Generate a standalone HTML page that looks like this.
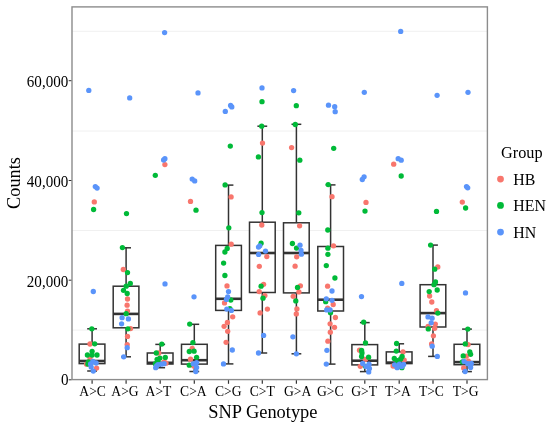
<!DOCTYPE html>
<html lang="en"><head><meta charset="utf-8"><title>SNP Genotype Counts</title>
<style>html,body{margin:0;padding:0;background:#fff}body{width:550px;height:428px;overflow:hidden}svg{display:block}text{font-family:"Liberation Serif","Times New Roman",serif;fill:#000}</style>
</head><body>
<svg width="550" height="428" viewBox="0 0 550 428">
<rect x="0" y="0" width="550" height="428" fill="#ffffff"/>
<g stroke="#f0f0f0" stroke-width="1" fill="none">
<line x1="72.0" x2="487.4" y1="31.3" y2="31.3"/>
<line x1="72.0" x2="487.4" y1="131.0" y2="131.0"/>
<line x1="72.0" x2="487.4" y1="230.5" y2="230.5"/>
<line x1="72.0" x2="487.4" y1="330.1" y2="330.1"/>
</g>
<g stroke="#333333" stroke-width="1.5" fill="none" stroke-linecap="butt">
<line x1="92.1" x2="92.1" y1="328.8" y2="344.1"/>
<line x1="92.1" x2="92.1" y1="363.6" y2="371.0"/>
<line x1="87.2" x2="97.0" y1="328.8" y2="328.8"/>
<line x1="87.2" x2="97.0" y1="371.0" y2="371.0"/>
<rect x="79.2" y="344.1" width="25.7" height="19.5" fill="#ffffff"/>
<line x1="79.2" x2="104.9" y1="361.0" y2="361.0" stroke-width="2.6"/>
<line x1="126.1" x2="126.1" y1="247.8" y2="286.2"/>
<line x1="126.1" x2="126.1" y1="327.8" y2="356.8"/>
<line x1="121.2" x2="131.0" y1="247.8" y2="247.8"/>
<line x1="121.2" x2="131.0" y1="356.8" y2="356.8"/>
<rect x="113.2" y="286.2" width="25.7" height="41.6" fill="#ffffff"/>
<line x1="113.2" x2="138.9" y1="313.9" y2="313.9" stroke-width="2.6"/>
<line x1="160.2" x2="160.2" y1="344.4" y2="353.0"/>
<line x1="160.2" x2="160.2" y1="364.0" y2="367.7"/>
<line x1="155.3" x2="165.1" y1="344.4" y2="344.4"/>
<line x1="155.3" x2="165.1" y1="367.7" y2="367.7"/>
<rect x="147.3" y="353.0" width="25.7" height="11.0" fill="#ffffff"/>
<line x1="147.3" x2="173.0" y1="362.8" y2="362.8" stroke-width="2.6"/>
<line x1="194.3" x2="194.3" y1="324.3" y2="344.3"/>
<line x1="194.3" x2="194.3" y1="364.1" y2="371.5"/>
<line x1="189.4" x2="199.2" y1="324.3" y2="324.3"/>
<line x1="189.4" x2="199.2" y1="371.5" y2="371.5"/>
<rect x="181.5" y="344.3" width="25.7" height="19.8" fill="#ffffff"/>
<line x1="181.5" x2="207.2" y1="360.2" y2="360.2" stroke-width="2.6"/>
<line x1="228.5" x2="228.5" y1="185.1" y2="245.4"/>
<line x1="228.5" x2="228.5" y1="310.4" y2="363.9"/>
<line x1="223.6" x2="233.4" y1="185.1" y2="185.1"/>
<line x1="223.6" x2="233.4" y1="363.9" y2="363.9"/>
<rect x="215.7" y="245.4" width="25.7" height="65.0" fill="#ffffff"/>
<line x1="215.7" x2="241.3" y1="298.8" y2="298.8" stroke-width="2.6"/>
<line x1="262.3" x2="262.3" y1="126.2" y2="222.2"/>
<line x1="262.3" x2="262.3" y1="292.5" y2="353.0"/>
<line x1="257.4" x2="267.2" y1="126.2" y2="126.2"/>
<line x1="257.4" x2="267.2" y1="353.0" y2="353.0"/>
<rect x="249.5" y="222.2" width="25.7" height="70.3" fill="#ffffff"/>
<line x1="249.5" x2="275.2" y1="253.0" y2="253.0" stroke-width="2.6"/>
<line x1="296.4" x2="296.4" y1="124.3" y2="222.8"/>
<line x1="296.4" x2="296.4" y1="292.9" y2="353.8"/>
<line x1="291.5" x2="301.3" y1="124.3" y2="124.3"/>
<line x1="291.5" x2="301.3" y1="353.8" y2="353.8"/>
<rect x="283.5" y="222.8" width="25.7" height="70.1" fill="#ffffff"/>
<line x1="283.5" x2="309.2" y1="253.0" y2="253.0" stroke-width="2.6"/>
<line x1="330.6" x2="330.6" y1="184.9" y2="246.5"/>
<line x1="330.6" x2="330.6" y1="311.0" y2="364.1"/>
<line x1="325.7" x2="335.5" y1="184.9" y2="184.9"/>
<line x1="325.7" x2="335.5" y1="364.1" y2="364.1"/>
<rect x="317.8" y="246.5" width="25.7" height="64.5" fill="#ffffff"/>
<line x1="317.8" x2="343.5" y1="299.7" y2="299.7" stroke-width="2.6"/>
<line x1="364.8" x2="364.8" y1="322.6" y2="344.6"/>
<line x1="364.8" x2="364.8" y1="364.9" y2="371.6"/>
<line x1="359.9" x2="369.7" y1="322.6" y2="322.6"/>
<line x1="359.9" x2="369.7" y1="371.6" y2="371.6"/>
<rect x="351.9" y="344.6" width="25.7" height="20.3" fill="#ffffff"/>
<line x1="351.9" x2="377.7" y1="360.7" y2="360.7" stroke-width="2.6"/>
<line x1="399.2" x2="399.2" y1="343.8" y2="351.9"/>
<line x1="399.2" x2="399.2" y1="363.6" y2="367.7"/>
<line x1="394.3" x2="404.1" y1="343.8" y2="343.8"/>
<line x1="394.3" x2="404.1" y1="367.7" y2="367.7"/>
<rect x="386.3" y="351.9" width="25.7" height="11.7" fill="#ffffff"/>
<line x1="386.3" x2="412.1" y1="362.6" y2="362.6" stroke-width="2.6"/>
<line x1="433.0" x2="433.0" y1="245.1" y2="284.7"/>
<line x1="433.0" x2="433.0" y1="327.0" y2="356.4"/>
<line x1="428.1" x2="437.9" y1="245.1" y2="245.1"/>
<line x1="428.1" x2="437.9" y1="356.4" y2="356.4"/>
<rect x="420.1" y="284.7" width="25.7" height="42.3" fill="#ffffff"/>
<line x1="420.1" x2="445.9" y1="313.1" y2="313.1" stroke-width="2.6"/>
<line x1="467.0" x2="467.0" y1="329.1" y2="344.3"/>
<line x1="467.0" x2="467.0" y1="364.7" y2="371.6"/>
<line x1="462.1" x2="471.9" y1="329.1" y2="329.1"/>
<line x1="462.1" x2="471.9" y1="371.6" y2="371.6"/>
<rect x="454.1" y="344.3" width="25.7" height="20.4" fill="#ffffff"/>
<line x1="454.1" x2="479.9" y1="362.1" y2="362.1" stroke-width="2.6"/>
</g>
<g fill="#F8766D" stroke="none">
<circle cx="94.3" cy="201.9" r="2.65"/>
<circle cx="90.0" cy="344.0" r="2.65"/>
<circle cx="90.0" cy="358.0" r="2.65"/>
<circle cx="86.6" cy="364.2" r="2.65"/>
<circle cx="96.6" cy="368.1" r="2.65"/>
<circle cx="123.3" cy="269.5" r="2.65"/>
<circle cx="127.5" cy="299.0" r="2.65"/>
<circle cx="127.1" cy="305.2" r="2.65"/>
<circle cx="127.5" cy="311.1" r="2.65"/>
<circle cx="130.6" cy="328.6" r="2.65"/>
<circle cx="127.5" cy="336.4" r="2.65"/>
<circle cx="127.2" cy="344.6" r="2.65"/>
<circle cx="164.9" cy="164.6" r="2.65"/>
<circle cx="158.8" cy="353.0" r="2.65"/>
<circle cx="164.1" cy="361.8" r="2.65"/>
<circle cx="166.0" cy="363.2" r="2.65"/>
<circle cx="190.5" cy="201.4" r="2.65"/>
<circle cx="192.2" cy="348.5" r="2.65"/>
<circle cx="190.5" cy="359.2" r="2.65"/>
<circle cx="193.7" cy="366.0" r="2.65"/>
<circle cx="231.1" cy="196.9" r="2.65"/>
<circle cx="231.2" cy="244.2" r="2.65"/>
<circle cx="227.0" cy="285.9" r="2.65"/>
<circle cx="224.5" cy="302.9" r="2.65"/>
<circle cx="232.7" cy="316.8" r="2.65"/>
<circle cx="227.4" cy="322.5" r="2.65"/>
<circle cx="224.1" cy="326.3" r="2.65"/>
<circle cx="227.7" cy="331.3" r="2.65"/>
<circle cx="226.1" cy="342.3" r="2.65"/>
<circle cx="262.5" cy="143.1" r="2.65"/>
<circle cx="261.8" cy="225.0" r="2.65"/>
<circle cx="266.8" cy="256.6" r="2.65"/>
<circle cx="259.3" cy="266.3" r="2.65"/>
<circle cx="263.6" cy="284.3" r="2.65"/>
<circle cx="259.2" cy="291.6" r="2.65"/>
<circle cx="264.9" cy="295.6" r="2.65"/>
<circle cx="267.4" cy="309.1" r="2.65"/>
<circle cx="260.1" cy="312.9" r="2.65"/>
<circle cx="291.6" cy="147.6" r="2.65"/>
<circle cx="299.6" cy="225.8" r="2.65"/>
<circle cx="296.7" cy="256.8" r="2.65"/>
<circle cx="295.1" cy="266.2" r="2.65"/>
<circle cx="300.4" cy="285.8" r="2.65"/>
<circle cx="298.9" cy="291.9" r="2.65"/>
<circle cx="293.2" cy="296.3" r="2.65"/>
<circle cx="296.9" cy="308.9" r="2.65"/>
<circle cx="296.3" cy="313.9" r="2.65"/>
<circle cx="332.0" cy="196.7" r="2.65"/>
<circle cx="333.5" cy="245.8" r="2.65"/>
<circle cx="327.6" cy="286.2" r="2.65"/>
<circle cx="333.2" cy="304.5" r="2.65"/>
<circle cx="327.6" cy="308.2" r="2.65"/>
<circle cx="335.4" cy="317.5" r="2.65"/>
<circle cx="330.1" cy="323.8" r="2.65"/>
<circle cx="334.5" cy="327.3" r="2.65"/>
<circle cx="330.3" cy="332.2" r="2.65"/>
<circle cx="327.9" cy="341.2" r="2.65"/>
<circle cx="366.0" cy="202.4" r="2.65"/>
<circle cx="359.5" cy="350.2" r="2.65"/>
<circle cx="365.5" cy="359.3" r="2.65"/>
<circle cx="360.3" cy="366.3" r="2.65"/>
<circle cx="393.7" cy="164.2" r="2.65"/>
<circle cx="403.0" cy="351.9" r="2.65"/>
<circle cx="404.2" cy="360.1" r="2.65"/>
<circle cx="393.1" cy="366.0" r="2.65"/>
<circle cx="437.8" cy="266.9" r="2.65"/>
<circle cx="429.6" cy="296.0" r="2.65"/>
<circle cx="431.8" cy="302.0" r="2.65"/>
<circle cx="436.5" cy="310.6" r="2.65"/>
<circle cx="435.3" cy="324.1" r="2.65"/>
<circle cx="428.1" cy="326.4" r="2.65"/>
<circle cx="434.7" cy="328.3" r="2.65"/>
<circle cx="433.4" cy="335.8" r="2.65"/>
<circle cx="431.6" cy="343.9" r="2.65"/>
<circle cx="462.3" cy="202.1" r="2.65"/>
<circle cx="468.1" cy="344.6" r="2.65"/>
<circle cx="466.3" cy="356.2" r="2.65"/>
<circle cx="468.4" cy="361.2" r="2.65"/>
<circle cx="463.7" cy="367.9" r="2.65"/>
</g>
<g fill="#00BA38" stroke="none">
<circle cx="93.6" cy="209.5" r="2.65"/>
<circle cx="91.8" cy="328.8" r="2.65"/>
<circle cx="94.7" cy="343.8" r="2.65"/>
<circle cx="92.1" cy="351.3" r="2.65"/>
<circle cx="87.4" cy="355.0" r="2.65"/>
<circle cx="92.1" cy="355.1" r="2.65"/>
<circle cx="97.0" cy="355.0" r="2.65"/>
<circle cx="88.5" cy="362.0" r="2.65"/>
<circle cx="87.9" cy="364.0" r="2.65"/>
<circle cx="126.5" cy="213.6" r="2.65"/>
<circle cx="122.4" cy="247.6" r="2.65"/>
<circle cx="127.5" cy="272.6" r="2.65"/>
<circle cx="130.3" cy="283.4" r="2.65"/>
<circle cx="126.2" cy="286.2" r="2.65"/>
<circle cx="123.5" cy="290.3" r="2.65"/>
<circle cx="127.2" cy="293.5" r="2.65"/>
<circle cx="126.2" cy="313.7" r="2.65"/>
<circle cx="127.9" cy="328.8" r="2.65"/>
<circle cx="155.3" cy="175.3" r="2.65"/>
<circle cx="161.8" cy="344.1" r="2.65"/>
<circle cx="156.3" cy="353.0" r="2.65"/>
<circle cx="165.3" cy="357.4" r="2.65"/>
<circle cx="159.9" cy="358.1" r="2.65"/>
<circle cx="157.1" cy="359.3" r="2.65"/>
<circle cx="158.0" cy="360.9" r="2.65"/>
<circle cx="155.4" cy="363.7" r="2.65"/>
<circle cx="196.0" cy="210.2" r="2.65"/>
<circle cx="189.7" cy="324.1" r="2.65"/>
<circle cx="192.9" cy="342.6" r="2.65"/>
<circle cx="189.3" cy="351.5" r="2.65"/>
<circle cx="194.1" cy="351.2" r="2.65"/>
<circle cx="196.6" cy="357.3" r="2.65"/>
<circle cx="189.3" cy="365.2" r="2.65"/>
<circle cx="230.3" cy="146.1" r="2.65"/>
<circle cx="225.1" cy="184.9" r="2.65"/>
<circle cx="228.8" cy="227.8" r="2.65"/>
<circle cx="227.2" cy="248.4" r="2.65"/>
<circle cx="224.9" cy="252.0" r="2.65"/>
<circle cx="223.6" cy="263.1" r="2.65"/>
<circle cx="224.9" cy="275.5" r="2.65"/>
<circle cx="230.8" cy="300.0" r="2.65"/>
<circle cx="229.9" cy="308.6" r="2.65"/>
<circle cx="262.0" cy="101.7" r="2.65"/>
<circle cx="261.7" cy="126.2" r="2.65"/>
<circle cx="258.4" cy="156.9" r="2.65"/>
<circle cx="262.0" cy="212.6" r="2.65"/>
<circle cx="261.1" cy="243.2" r="2.65"/>
<circle cx="261.1" cy="286.2" r="2.65"/>
<circle cx="263.0" cy="298.2" r="2.65"/>
<circle cx="296.3" cy="105.7" r="2.65"/>
<circle cx="295.3" cy="124.5" r="2.65"/>
<circle cx="299.8" cy="160.2" r="2.65"/>
<circle cx="298.8" cy="212.8" r="2.65"/>
<circle cx="292.4" cy="243.5" r="2.65"/>
<circle cx="296.5" cy="248.1" r="2.65"/>
<circle cx="297.5" cy="287.4" r="2.65"/>
<circle cx="295.8" cy="300.9" r="2.65"/>
<circle cx="333.7" cy="148.3" r="2.65"/>
<circle cx="328.2" cy="184.6" r="2.65"/>
<circle cx="327.8" cy="230.0" r="2.65"/>
<circle cx="327.9" cy="248.2" r="2.65"/>
<circle cx="327.9" cy="254.3" r="2.65"/>
<circle cx="326.3" cy="265.6" r="2.65"/>
<circle cx="334.9" cy="278.0" r="2.65"/>
<circle cx="325.7" cy="301.7" r="2.65"/>
<circle cx="330.5" cy="312.7" r="2.65"/>
<circle cx="365.0" cy="211.1" r="2.65"/>
<circle cx="363.7" cy="322.2" r="2.65"/>
<circle cx="365.5" cy="342.9" r="2.65"/>
<circle cx="361.6" cy="350.5" r="2.65"/>
<circle cx="362.0" cy="353.0" r="2.65"/>
<circle cx="361.6" cy="356.5" r="2.65"/>
<circle cx="368.6" cy="357.2" r="2.65"/>
<circle cx="365.5" cy="366.3" r="2.65"/>
<circle cx="401.2" cy="176.0" r="2.65"/>
<circle cx="396.6" cy="343.5" r="2.65"/>
<circle cx="396.3" cy="351.1" r="2.65"/>
<circle cx="402.1" cy="356.4" r="2.65"/>
<circle cx="394.3" cy="358.4" r="2.65"/>
<circle cx="400.7" cy="359.0" r="2.65"/>
<circle cx="397.2" cy="360.7" r="2.65"/>
<circle cx="401.9" cy="367.7" r="2.65"/>
<circle cx="436.5" cy="211.4" r="2.65"/>
<circle cx="430.6" cy="245.1" r="2.65"/>
<circle cx="434.7" cy="269.2" r="2.65"/>
<circle cx="435.5" cy="282.0" r="2.65"/>
<circle cx="434.0" cy="284.7" r="2.65"/>
<circle cx="437.2" cy="290.0" r="2.65"/>
<circle cx="429.2" cy="291.6" r="2.65"/>
<circle cx="437.8" cy="313.1" r="2.65"/>
<circle cx="428.3" cy="328.9" r="2.65"/>
<circle cx="465.6" cy="208.0" r="2.65"/>
<circle cx="467.8" cy="329.1" r="2.65"/>
<circle cx="465.3" cy="343.9" r="2.65"/>
<circle cx="469.8" cy="351.9" r="2.65"/>
<circle cx="470.6" cy="354.3" r="2.65"/>
<circle cx="463.2" cy="355.9" r="2.65"/>
<circle cx="462.4" cy="361.8" r="2.65"/>
</g>
<g fill="#5A94FA" stroke="none">
<circle cx="88.8" cy="90.4" r="2.65"/>
<circle cx="95.3" cy="186.6" r="2.65"/>
<circle cx="97.1" cy="188.1" r="2.65"/>
<circle cx="93.3" cy="291.5" r="2.65"/>
<circle cx="92.9" cy="361.5" r="2.65"/>
<circle cx="96.1" cy="363.0" r="2.65"/>
<circle cx="90.6" cy="363.9" r="2.65"/>
<circle cx="91.2" cy="367.1" r="2.65"/>
<circle cx="93.3" cy="371.1" r="2.65"/>
<circle cx="129.7" cy="97.9" r="2.65"/>
<circle cx="122.1" cy="317.7" r="2.65"/>
<circle cx="128.4" cy="318.9" r="2.65"/>
<circle cx="121.6" cy="323.8" r="2.65"/>
<circle cx="127.2" cy="347.7" r="2.65"/>
<circle cx="123.7" cy="356.8" r="2.65"/>
<circle cx="164.6" cy="32.6" r="2.65"/>
<circle cx="164.9" cy="158.7" r="2.65"/>
<circle cx="163.6" cy="160.0" r="2.65"/>
<circle cx="165.0" cy="283.9" r="2.65"/>
<circle cx="164.1" cy="363.7" r="2.65"/>
<circle cx="161.3" cy="364.2" r="2.65"/>
<circle cx="158.0" cy="364.6" r="2.65"/>
<circle cx="156.6" cy="366.0" r="2.65"/>
<circle cx="155.7" cy="367.7" r="2.65"/>
<circle cx="198.0" cy="92.9" r="2.65"/>
<circle cx="192.2" cy="179.1" r="2.65"/>
<circle cx="194.7" cy="180.9" r="2.65"/>
<circle cx="194.0" cy="296.8" r="2.65"/>
<circle cx="193.2" cy="363.8" r="2.65"/>
<circle cx="196.6" cy="362.6" r="2.65"/>
<circle cx="196.6" cy="367.4" r="2.65"/>
<circle cx="195.8" cy="371.5" r="2.65"/>
<circle cx="230.6" cy="105.4" r="2.65"/>
<circle cx="231.8" cy="106.9" r="2.65"/>
<circle cx="225.3" cy="111.4" r="2.65"/>
<circle cx="228.5" cy="291.6" r="2.65"/>
<circle cx="227.7" cy="296.9" r="2.65"/>
<circle cx="226.4" cy="299.4" r="2.65"/>
<circle cx="226.8" cy="309.1" r="2.65"/>
<circle cx="231.4" cy="310.4" r="2.65"/>
<circle cx="232.3" cy="350.0" r="2.65"/>
<circle cx="223.5" cy="363.9" r="2.65"/>
<circle cx="262.0" cy="87.9" r="2.65"/>
<circle cx="259.8" cy="245.8" r="2.65"/>
<circle cx="258.5" cy="247.1" r="2.65"/>
<circle cx="265.5" cy="251.1" r="2.65"/>
<circle cx="258.6" cy="254.4" r="2.65"/>
<circle cx="263.6" cy="335.4" r="2.65"/>
<circle cx="258.5" cy="353.0" r="2.65"/>
<circle cx="293.6" cy="90.6" r="2.65"/>
<circle cx="300.0" cy="245.2" r="2.65"/>
<circle cx="301.0" cy="250.4" r="2.65"/>
<circle cx="301.4" cy="254.2" r="2.65"/>
<circle cx="292.9" cy="336.8" r="2.65"/>
<circle cx="296.4" cy="353.8" r="2.65"/>
<circle cx="328.5" cy="105.2" r="2.65"/>
<circle cx="334.7" cy="106.7" r="2.65"/>
<circle cx="335.2" cy="111.7" r="2.65"/>
<circle cx="332.0" cy="291.0" r="2.65"/>
<circle cx="326.3" cy="298.8" r="2.65"/>
<circle cx="332.0" cy="300.3" r="2.65"/>
<circle cx="326.7" cy="309.9" r="2.65"/>
<circle cx="330.1" cy="309.9" r="2.65"/>
<circle cx="326.9" cy="350.3" r="2.65"/>
<circle cx="326.3" cy="364.1" r="2.65"/>
<circle cx="364.3" cy="92.3" r="2.65"/>
<circle cx="364.1" cy="176.8" r="2.65"/>
<circle cx="362.3" cy="179.5" r="2.65"/>
<circle cx="361.5" cy="296.6" r="2.65"/>
<circle cx="362.7" cy="363.5" r="2.65"/>
<circle cx="369.0" cy="364.2" r="2.65"/>
<circle cx="366.0" cy="366.6" r="2.65"/>
<circle cx="369.4" cy="368.4" r="2.65"/>
<circle cx="368.7" cy="371.9" r="2.65"/>
<circle cx="400.7" cy="31.4" r="2.65"/>
<circle cx="398.2" cy="158.7" r="2.65"/>
<circle cx="401.2" cy="160.2" r="2.65"/>
<circle cx="401.8" cy="283.4" r="2.65"/>
<circle cx="394.6" cy="364.8" r="2.65"/>
<circle cx="399.5" cy="364.2" r="2.65"/>
<circle cx="403.6" cy="364.4" r="2.65"/>
<circle cx="397.2" cy="367.7" r="2.65"/>
<circle cx="401.8" cy="366.6" r="2.65"/>
<circle cx="437.1" cy="95.3" r="2.65"/>
<circle cx="428.0" cy="316.9" r="2.65"/>
<circle cx="432.1" cy="318.2" r="2.65"/>
<circle cx="431.2" cy="322.8" r="2.65"/>
<circle cx="432.2" cy="346.2" r="2.65"/>
<circle cx="437.3" cy="356.4" r="2.65"/>
<circle cx="468.0" cy="92.3" r="2.65"/>
<circle cx="466.5" cy="186.6" r="2.65"/>
<circle cx="467.7" cy="187.8" r="2.65"/>
<circle cx="465.5" cy="292.9" r="2.65"/>
<circle cx="464.1" cy="361.5" r="2.65"/>
<circle cx="467.8" cy="363.7" r="2.65"/>
<circle cx="471.3" cy="363.5" r="2.65"/>
<circle cx="470.6" cy="367.5" r="2.65"/>
<circle cx="465.1" cy="371.5" r="2.65"/>
</g>
<rect x="72.0" y="6.9" width="415.4" height="372.7" fill="none" stroke="#8c8c8c" stroke-width="1.4"/>
<g stroke="#333333" stroke-width="1.2">
<line x1="92.1" x2="92.1" y1="380.20000000000005" y2="383.8"/>
<line x1="126.1" x2="126.1" y1="380.20000000000005" y2="383.8"/>
<line x1="160.2" x2="160.2" y1="380.20000000000005" y2="383.8"/>
<line x1="194.3" x2="194.3" y1="380.20000000000005" y2="383.8"/>
<line x1="228.5" x2="228.5" y1="380.20000000000005" y2="383.8"/>
<line x1="262.3" x2="262.3" y1="380.20000000000005" y2="383.8"/>
<line x1="296.4" x2="296.4" y1="380.20000000000005" y2="383.8"/>
<line x1="330.6" x2="330.6" y1="380.20000000000005" y2="383.8"/>
<line x1="364.8" x2="364.8" y1="380.20000000000005" y2="383.8"/>
<line x1="399.2" x2="399.2" y1="380.20000000000005" y2="383.8"/>
<line x1="433.0" x2="433.0" y1="380.20000000000005" y2="383.8"/>
<line x1="467.0" x2="467.0" y1="380.20000000000005" y2="383.8"/>
<line x1="68.7" x2="71.4" y1="80.7" y2="80.7" stroke-width="1.0"/>
<line x1="68.7" x2="71.4" y1="180.5" y2="180.5" stroke-width="1.0"/>
<line x1="68.7" x2="71.4" y1="280.2" y2="280.2" stroke-width="1.0"/>
<line x1="68.7" x2="71.4" y1="379.8" y2="379.8" stroke-width="1.0"/>
</g>
<g font-size="13.6" text-anchor="middle">
<text x="92.65" y="396.2">A&gt;C</text>
<text x="125.00" y="396.2">A&gt;G</text>
<text x="158.50" y="396.2">A&gt;T</text>
<text x="193.40" y="396.2">C&gt;A</text>
<text x="228.30" y="396.2">C&gt;G</text>
<text x="262.30" y="396.2">C&gt;T</text>
<text x="297.70" y="396.2">G&gt;A</text>
<text x="330.20" y="396.2">G&gt;C</text>
<text x="364.20" y="396.2">G&gt;T</text>
<text x="398.00" y="396.2">T&gt;A</text>
<text x="431.40" y="396.2">T&gt;C</text>
<text x="465.70" y="396.2">T&gt;G</text>
</g>
<g font-size="15.1" text-anchor="end">
<text transform="translate(68.3,87.0) scale(1,1.08)">60,000</text>
<text transform="translate(68.3,186.8) scale(1,1.08)">40,000</text>
<text transform="translate(68.3,286.5) scale(1,1.08)">20,000</text>
<text transform="translate(68.6,384.7) scale(1,1.1)">0</text>
</g>
<text x="262.9" y="417.6" font-size="18.4" text-anchor="middle">SNP Genotype</text>
<text transform="translate(19.5,183.05) rotate(-90)" font-size="18.25" text-anchor="middle">Counts</text>
<text transform="translate(501.0,157.6) scale(1,1.08)" font-size="16.25">Group</text>
<circle cx="500.5" cy="179.1" r="3.4" fill="#F8766D"/>
<text transform="translate(513.3,184.6) scale(1,1.1)" font-size="15.9">HB</text>
<circle cx="500.5" cy="205.4" r="3.4" fill="#00BA38"/>
<text transform="translate(513.3,211.4) scale(1,1.1)" font-size="15.9">HEN</text>
<circle cx="500.5" cy="232.1" r="3.4" fill="#5A94FA"/>
<text transform="translate(513.3,237.7) scale(1,1.1)" font-size="15.9">HN</text>
</svg>
</body></html>
